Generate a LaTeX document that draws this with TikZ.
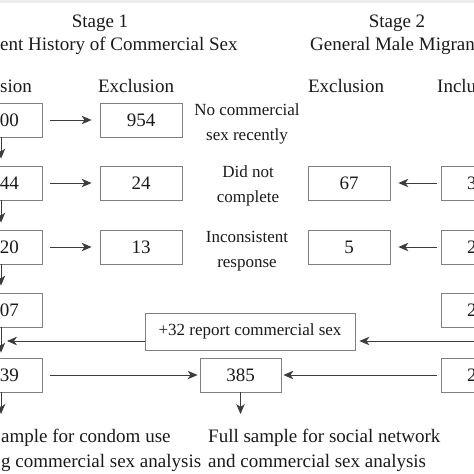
\documentclass[tikz,border=0pt]{standalone}
\usepackage{fontspec}
\setmainfont{Liberation Serif}
\usetikzlibrary{arrows.meta,positioning}
\definecolor{boxgray}{HTML}{808080}
\definecolor{linegray}{HTML}{3C3C3C}
\definecolor{inkgray}{HTML}{1A1A1A}
\newcommand\boxfont{\fontsize{19}{25}\selectfont}
\newcommand\notefont{\fontsize{17}{25}\selectfont}

\begin{document}
\begin{tikzpicture}[x=1pt,y=-1pt,
    countbox/.style={draw=boxgray, line width=0.8pt, minimum width=82pt, minimum height=34pt,
      inner sep=0pt, text=inkgray, font=\boxfont},
    leftbox/.style={countbox, text width=36pt, align=right, inner xsep=23pt},
    rightbox/.style={countbox, text width=30pt, align=left, inner xsep=26pt},
    note/.style={inner sep=0pt, align=center, text=inkgray, font=\notefont},
    head/.style={inner sep=0pt, text=inkgray, font=\boxfont},
    flow/.style={draw=linegray, line width=0.9pt, -{Stealth[length=10pt,width=8.5pt,inset=3pt]}}]
        \useasboundingbox (0,0) rectangle (474,474);
        \clip (0,0) rectangle (474,474);
        \fill[black!7] (0,0) rectangle (474,3);
        %headings
        \node[head, anchor=base] (stage1) at (100,27) {Stage 1};
        \node[head, anchor=base west] (hist) at (0,50) {ent History of Commercial Sex};
        \node[head, anchor=base] (stage2) at (397,27) {Stage 2};
        \node[head, anchor=base west] (migr) at (310,50) {General Male Migran};
        \node[head, anchor=base west] (incA) at (0,92) {sion};
        \node[head, anchor=base] (excA) at (136,92) {Exclusion};
        \node[head, anchor=base] (excB) at (346,92) {Exclusion};
        \node[head, anchor=base west] (incB) at (437,92) {Inclu};
        %stage 1 inclusion column
        \node[leftbox] (in1) at (1,120) {00};
        \node[leftbox] (in2) at (1,183) {44};
        \node[leftbox] (in3) at (1,247) {20};
        \node[leftbox] (in4) at (1,310) {07};
        \node[leftbox] (in5) at (1,375) {39};
        %stage 1 exclusion column
        \node[countbox] (ex1) at (141,120) {954};
        \node[countbox] (ex2) at (141,183) {24};
        \node[countbox] (ex3) at (141,247) {13};
        %reasons
        \node[note] (why1) at (247,123.5) {No commercial\\sex recently};
        \node[note] (why2) at (248,185.5) {Did not\\complete};
        \node[note] (why3) at (247,251.5) {Inconsistent\\response};
        %stage 2 columns
        \node[countbox] (rx2) at (349,183) {67};
        \node[countbox] (rx3) at (349,247) {5};
        \node[rightbox] (ri2) at (482,183) {3};
        \node[rightbox] (ri3) at (482,247) {2};
        \node[rightbox] (ri4) at (482,310) {2};
        \node[rightbox] (ri5) at (482,375) {2};
        %merge boxes
        \node[countbox, minimum width=210pt, minimum height=37pt, font=\notefont] (report)
          at (250,331.5) {+32 report commercial sex};
        \node[countbox, minimum width=81pt] (full) at (240.5,375) {385};
        %free ends
        \coordinate (fromR) at (482,341);
        \coordinate (toL) at (1,341);
        \coordinate (endL) at (1,414);
        \coordinate (endM) at (240.5,414);
        %vertical arrows
        \draw[flow, shorten >=7pt] (in1) -- (in2);
        \draw[flow, shorten >=7pt] (in2) -- (in3);
        \draw[flow, shorten >=7pt] (in3) -- (in4);
        \draw[flow, shorten >=5pt] (in4) -- (in5);
        \draw[flow] (in5) -- (endL);
        \draw[flow] (full) -- (endM);
        %horizontal arrows
        \draw[flow, shorten <=8pt, shorten >=8pt] (in1) -- (ex1);
        \draw[flow, shorten <=8pt, shorten >=8pt] (in2) -- (ex2);
        \draw[flow, shorten <=8pt, shorten >=8pt] (in3) -- (ex3);
        \draw[flow, shorten <=4pt, shorten >=8pt] (ri2) -- (rx2);
        \draw[flow, shorten <=4pt, shorten >=8pt] (ri3) -- (rx3);
        \draw[flow, shorten >=4pt] (fromR) -- (report.east |- fromR);
        \draw[flow, shorten >=6pt] (report.west |- toL) -- (toL);
        \draw[flow, shorten <=8pt, shorten >=2pt] (in5) -- (full);
        \draw[flow, shorten <=4pt, shorten >=2pt] (ri5) -- (full);
        %bottom notes
        \node[head, align=left, anchor=west] (useL) at (1,450)
          {ample for condom use\\g commercial sex analysis};
        \node[head, align=left, anchor=west] (useR) at (208,450)
          {Full sample for social network\\and commercial sex analysis};
\end{tikzpicture}
\end{document}
